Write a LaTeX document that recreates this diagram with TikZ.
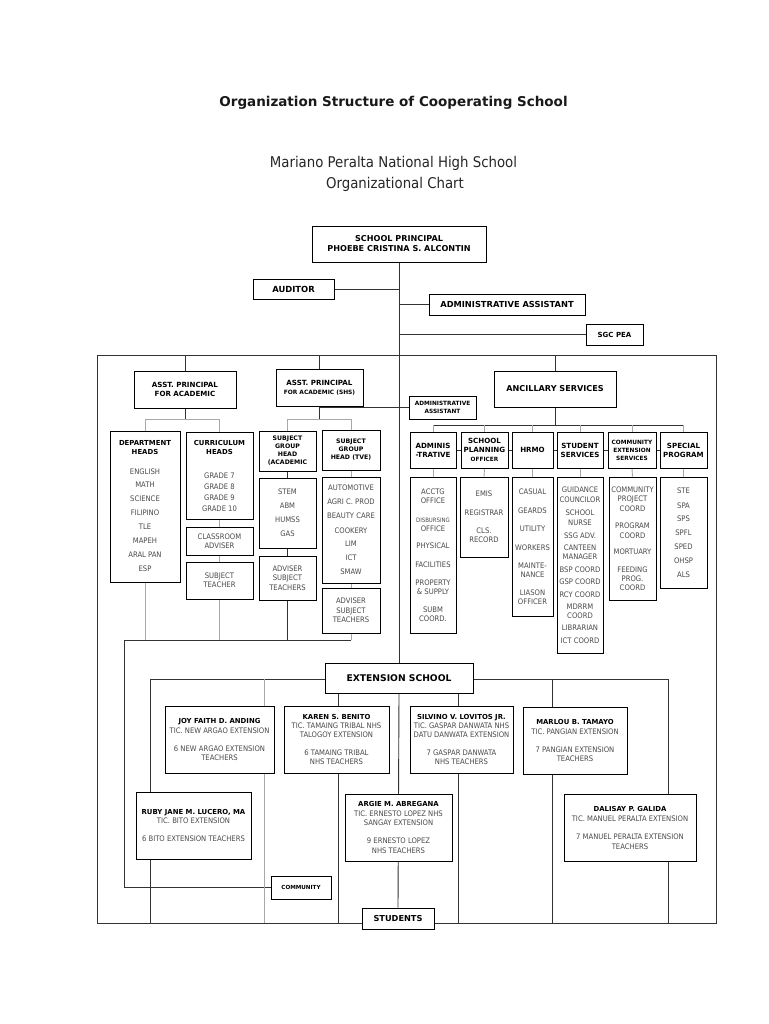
\documentclass[tikz,border=0pt]{standalone}
\usepackage{fontspec}
\setmainfont{DejaVu Sans Condensed}
\newfontfamily\bsf{DejaVu Sans}
\definecolor{txt}{HTML}{4A4A4A}
\definecolor{lnd}{HTML}{333333}
\definecolor{lnl}{HTML}{A8A8A8}
\newcommand\fs[2]{\fontsize{#1}{#2}\selectfont}
\newcommand\hb[1]{{\color{black}\bsf\bfseries\fontsize{6.9}{9}\selectfont #1}}
\newcommand\bx[7][]{\node[box,minimum width={(#5-#3)*1pt},minimum height={(#6-#4)*1pt},#1] (#2) at ({(#3+#5)/2},{(#4+#6)/2}) {#7};}
\pgfdeclarelayer{bg}
\pgfsetlayers{bg,main}
\tikzset{
  box/.style={draw=black,line width=0.9pt,fill=white,inner sep=0pt,align=center,text=txt,font=\fs{7.6}{9}},
  hd/.style={text=black,font=\bsf\bfseries\fs{7.1}{9}},
  hds/.style={text=black,font=\bsf\bfseries\fs{5.8}{8}},
  ln/.style={draw=lnd,line width=0.9pt},
  lg/.style={draw=lnl,line width=0.9pt}
}
\begin{document}
\begin{tikzpicture}[x=1pt,y=-1pt]
\useasboundingbox (0,0) rectangle (768,1024);
% titles
\node[font=\bsf\bfseries\fs{13.5}{16},text=black!90] (title) at (393.5,103) {Organization Structure of Cooperating School};
\node[font=\fs{14.8}{16},text=black!85] (sub1) at (393.5,163) {Mariano Peralta National High School};
\node[font=\fs{14.8}{16},text=black!85] (sub2) at (395,184) {Organizational Chart};
% top
\bx[hd,font=\bsf\bfseries\fs{8.1}{10}]{princ}{312}{226}{486}{262}{SCHOOL PRINCIPAL\\PHOEBE CRISTINA S. ALCONTIN}
\bx[hd,font=\bsf\bfseries\fs{8.4}{10}]{aud}{253}{279}{334}{299}{AUDITOR}
\bx[hd,font=\bsf\bfseries\fs{8.3}{10}]{adm}{429}{294}{585}{315}{ADMINISTRATIVE ASSISTANT}
\bx[hd,font=\bsf\bfseries\fs{7}{8}]{sgc}{586}{324}{643}{345}{SGC PEA}
\coordinate (fTL) at (97,355);
\coordinate (fBR) at (716,923);
\bx[hd]{apa}{134}{371}{236}{408}{ASST. PRINCIPAL\\FOR ACADEMIC}
\bx[hd]{shs}{276}{369}{363}{406}{ASST. PRINCIPAL\\{\fs{5.9}{9}FOR ACADEMIC (SHS)}}
\bx[hd,font=\bsf\bfseries\fs{8.1}{10}]{anc}{494}{371}{616}{407}{ANCILLARY SERVICES}
\bx[hds]{adm2}{409}{396}{476}{419}{ADMINISTRATIVE\\ASSISTANT}
% academic
\bx{dept}{110}{431}{180}{582}{\hb{DEPARTMENT}\\\hb{HEADS}\\[11pt]ENGLISH\\[4pt]MATH\\[5pt]SCIENCE\\[5pt]FILIPINO\\[5pt]TLE\\[5pt]MAPEH\\[5pt]ARAL PAN\\[5pt]ESP}
\bx{curr}{186}{432}{253}{519}{\hb{CURRICULUM}\\\hb{HEADS}\\[15pt]GRADE 7\\[2pt]GRADE 8\\[2pt]GRADE 9\\[2pt]GRADE 10}
\bx{cadv}{186}{527}{253}{555}{CLASSROOM\\ADVISER}
\bx{steach}{186}{562}{253}{599}{SUBJECT\\TEACHER}
\bx[hds,font=\bsf\bfseries\fs{6.2}{8}]{sgha}{259}{431}{316}{471}{SUBJECT\\GROUP\\HEAD\\(ACADEMIC}
\bx{stem}{259}{478}{316}{548}{STEM\\[5pt]ABM\\[5pt]HUMSS\\[5pt]GAS}
\bx[font=\fs{7.6}{9.5}]{ast}{259}{556}{316}{600}{ADVISER\\SUBJECT\\TEACHERS}
\bx[hds,font=\bsf\bfseries\fs{6.2}{8}]{sght}{322}{430}{380}{470}{SUBJECT\\GROUP\\HEAD (TVE)}
\bx{auto}{322}{477}{380}{583}{AUTOMOTIVE\\[5pt]AGRI C. PROD\\[5pt]BEAUTY CARE\\[6pt]COOKERY\\[4pt]LIM\\[5pt]ICT\\[5pt]SMAW}
\bx[font=\fs{7.6}{9.5}]{astve}{322}{588}{380}{633}{ADVISER\\SUBJECT\\TEACHERS}
% ancillary
\bx[hd]{a1}{410}{432}{456}{468}{ADMINIS\\-TRATIVE}
\bx[hd]{a2}{461}{432}{508}{468}{SCHOOL\\PLANNING\\{\fs{5.8}{9}OFFICER}}
\bx[hd]{a3}{512}{432}{553}{468}{HRMO}
\bx[hd]{a4}{557}{432}{603}{468}{STUDENT\\SERVICES}
\bx[hds]{a5}{608}{432}{656}{468}{COMMUNITY\\EXTENSION\\SERVICES}
\bx[hd]{a6}{660}{432}{707}{468}{SPECIAL\\PROGRAM}
\bx{c1}{410}{477}{456}{633}{ACCTG\\OFFICE\\[10pt]{\fs{6}{9}DISBURSING}\\OFFICE\\[8pt]PHYSICAL\\[10pt]FACILITIES\\[9pt]PROPERTY\\\& SUPPLY\\[9pt]SUBM\\COORD.}
\bx{c2}{460}{477}{508}{557}{EMIS\\[10pt]REGISTRAR\\[9pt]CLS.\\RECORD}
\bx{c3}{512}{477}{553}{616}{CASUAL\\[10pt]GEARDS\\[9pt]UTILITY\\[10pt]WORKERS\\[9pt]MAINTE-\\NANCE\\[9pt]LIASON\\OFFICER}
\bx{c4}{557}{477}{603}{653}{GUIDANCE\\[1pt]COUNCILOR\\[4pt]SCHOOL\\[1pt]NURSE\\[4pt]SSG ADV.\\[3pt]CANTEEN\\MANAGER\\[4pt]BSP COORD\\[3pt]GSP COORD\\[4pt]RCY COORD\\[3pt]MDRRM\\COORD\\[3pt]LIBRARIAN\\[4pt]ICT COORD}
\bx{c5}{609}{477}{656}{600}{COMMUNITY\\PROJECT\\[1pt]COORD\\[8pt]PROGRAM\\[1pt]COORD\\[7pt]MORTUARY\\[9pt]FEEDING\\PROG.\\COORD}
\bx{c6}{660}{477}{707}{588}{STE\\[6pt]SPA\\[4pt]SPS\\[5pt]SPFL\\[5pt]SPED\\[5pt]OHSP\\[5pt]ALS}
% extension
\bx[hd,font=\bsf\bfseries\fs{9.2}{10}]{ext}{325}{663}{473}{693}{EXTENSION SCHOOL}
\bx{joy}{165}{706}{274}{773}{\hb{JOY FAITH D. ANDING}\\[1pt]TIC. NEW ARGAO EXTENSION\\[9.5pt]6 NEW ARGAO EXTENSION\\TEACHERS}
\bx{karen}{284}{706}{389}{773}{\hb{KAREN S. BENITO}\\TIC. TAMAING TRIBAL NHS\\TALOGOY EXTENSION\\[9.5pt]6 TAMAING TRIBAL\\NHS TEACHERS}
\bx{silv}{410}{706}{513}{773}{\hb{SILVINO V. LOVITOS JR.}\\TIC. GASPAR DANWATA NHS\\DATU DANWATA EXTENSION\\[9.5pt]7 GASPAR DANWATA\\NHS TEACHERS}
\bx{marl}{523}{707}{627}{774}{\hb{MARLOU B. TAMAYO}\\[1pt]TIC. PANGIAN EXTENSION\\[9.5pt]7 PANGIAN EXTENSION\\TEACHERS}
\bx{ruby}{136}{792}{251}{859}{\hb{RUBY JANE M. LUCERO, MA}\\TIC. BITO EXTENSION\\[9.5pt]6 BITO EXTENSION TEACHERS}
\bx{argie}{345}{794}{452}{861}{\hb{ARGIE M. ABREGANA}\\[1pt]TIC. ERNESTO LOPEZ NHS\\SANGAY EXTENSION\\[9pt]9 ERNESTO LOPEZ\\[1pt]NHS TEACHERS}
\bx{dal}{564}{794}{696}{861}{\hb{DALISAY P. GALIDA}\\[1pt]TIC. MANUEL PERALTA EXTENSION\\[9pt]7 MANUEL PERALTA EXTENSION\\[1pt]TEACHERS}
\bx[hds,font=\bsf\bfseries\fs{5.6}{8}]{comm}{271}{876}{331}{899}{COMMUNITY}
\bx[hd,font=\bsf\bfseries\fs{8.2}{10}]{stud}{362}{908}{434}{929}{STUDENTS}
% connectors
\begin{pgfonlayer}{bg}
\draw[ln] (fTL) rectangle (fBR);
\draw[ln] (princ.south) -- (princ.south |- ext.north);
\draw[ln] (aud.east) -- (aud.east -| princ.south);
\draw[ln] (adm.west) -- (adm.west -| princ.south);
\draw[ln] (sgc.west) -- (sgc.west -| princ.south);
\draw[ln] (apa.north) -- (apa.north |- fTL);
\draw[ln] (shs.north) -- (shs.north |- fTL);
\draw[ln] (anc.north) -- (anc.north |- fTL);
% academic
\coordinate (abar) at (0,419);
\draw[ln] (apa.south) -- (apa.south |- abar);
\draw[lg] (dept.north) -- (dept.north |- abar) -- (curr.north |- abar) -- (curr.north);
\draw[lg] (curr.south) -- (cadv.north) (cadv.south) -- (steach.north);
\coordinate (shsj) at (shs.south |- adm2.west);
\draw[ln] (shs.south) -- (shsj) -- (adm2.west);
\draw[ln] (shsj) -- (shsj |- abar);
\draw[lg] (sgha.north) -- (sgha.north |- abar) -- (sght.north |- abar) -- (sght.north);
\draw[ln] (sgha.south) -- (stem.north) (stem.south) -- (ast.north);
\draw[lg] (sght.south) -- (auto.north) (auto.south) -- (astve.north);
\coordinate (bbar) at (124,640);
\draw[lg] (dept.south) -- (dept.south |- bbar);
\draw[lg] (steach.south) -- (steach.south |- bbar);
\draw[ln] (ast.south) -- (ast.south |- bbar);
\draw[lg] (astve.south) -- (astve.south |- bbar);
\draw[ln] (astve.south |- bbar) -- (bbar) -- (bbar |- comm.west) -- (comm.west);
% ancillary
\coordinate (cbar) at (0,425);
\draw[ln] (anc.south) -- (anc.south |- cbar);
\draw[ln] (a1.north |- cbar) -- (a6.north |- cbar);
\foreach \i in {1,...,6} {\draw[lg] (a\i.north) -- (a\i.north |- cbar); \draw[lg] (a\i.south) -- (c\i.north);}
\foreach \i/\j in {1/2,2/3,3/4,4/5,5/6} \draw[ln] (a\i.east) -- (a\j.west);
% extension
\coordinate (eL) at (150,679);
\coordinate (eR) at (668,679);
\coordinate (eJ) at (264,679);
\coordinate (eK) at (338,679);
\coordinate (eS) at (458,679);
\coordinate (eM) at (552,679);
\draw[ln] (eL) -- (eR);
\draw[ln] (eL) -- (eL |- fBR);
\draw[lg] (eJ) -- (eJ |- fBR);
\draw[ln] (eK) -- (eK |- fBR);
\draw[ln] (eS) -- (eS |- fBR);
\draw[ln] (eM) -- (eM |- fBR);
\draw[ln] (eR) -- (eR |- fBR);
\draw[ln] (ext.south) -- (stud.north);
\end{pgfonlayer}
\end{tikzpicture}
\end{document}
